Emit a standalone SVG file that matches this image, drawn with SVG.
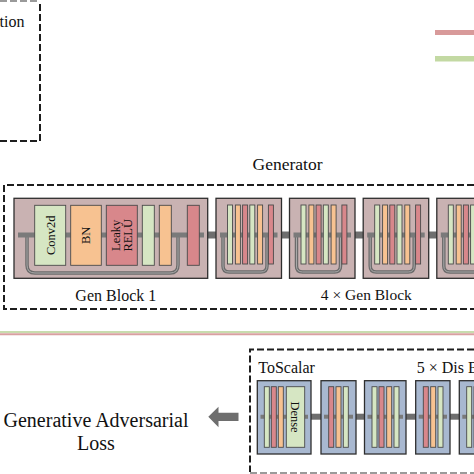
<svg xmlns="http://www.w3.org/2000/svg" width="474" height="474" viewBox="0 0 474 474">
<style>
.dash{fill:none;stroke:#1e1e1e;stroke-width:2;stroke-dasharray:7 3}
.dashg{fill:none;stroke:#9a9a9a;stroke-width:2;stroke-dasharray:7 3}
.gb{fill:#c9b2b2;stroke:#2e2e2e;stroke-width:1.3}
.db{fill:#a8b8d0;stroke:#2e2e2e;stroke-width:1.3}
.g{fill:#d6e6c3;stroke:#4a4a4a;stroke-width:0.9}
.o{fill:#f7c291;stroke:#4a4a4a;stroke-width:0.9}
.r{fill:#d8878b;stroke:#4a4a4a;stroke-width:0.9}
.ln{stroke:#7a7a7a;stroke-width:5;fill:none}
.lnd{stroke:#7a7a7a;stroke-width:4;fill:none}
.cn{stroke:#6e6e6e;stroke-width:7;fill:none}
.sk{fill:none;stroke:#6b6b6b;stroke-width:3.5}
.sk2{fill:none;stroke:#a9a9a9;stroke-width:1}
text{font-family:"Liberation Serif","Times New Roman",serif;fill:#111}
.t16{font-size:16px}
.lab{font-size:12.5px}
</style>
<defs>
<g id="genblk">
<rect class="gb" x="0" y="198.3" width="65.5" height="80"/>
<path class="sk" d="M7,235 V266 Q7,272 13,272 H45 Q51,272 51,266 V235"/>
<path class="sk2" d="M7,235 V266 Q7,272 13,272 H45 Q51,272 51,266 V235"/>
<line class="ln" x1="4" y1="235" x2="61.5" y2="235"/>
<rect class="g" x="11.5" y="205" width="5" height="59"/>
<rect class="o" x="19.4" y="205" width="5" height="59"/>
<rect class="r" x="26.6" y="205" width="5" height="59"/>
<rect class="g" x="33.8" y="205" width="5" height="59"/>
<rect class="o" x="41.6" y="205" width="5" height="59"/>
<rect class="r" x="52.4" y="205" width="5" height="59"/>
</g>
</defs>

<!-- top-left partial box -->
<g id="top-box">
<path class="dashg" d="M0,1 H40"/>
<path class="dash" d="M0,141 H40 V3"/>
<text class="t16" x="24.5" y="27" text-anchor="end">tion</text>
</g>

<!-- legend lines -->
<g id="legend">
<rect x="435" y="30" width="39" height="5" fill="#d89a9a"/>
<rect x="435" y="56" width="39" height="5.5" fill="#c3d9a3"/>
</g>

<!-- generator -->
<g id="generator">
<text x="287.5" y="170" text-anchor="middle" style="font-size:17.5px">Generator</text>
<path class="dash" d="M474,185 H4 V309 H474"/>
</g>

<g id="connectors">
<line class="cn" x1="204" y1="235" x2="217" y2="235"/>
<line class="cn" x1="281" y1="235" x2="290" y2="235"/>
<line class="cn" x1="355" y1="235" x2="364" y2="235"/>
<line class="cn" x1="428.5" y1="235" x2="437.5" y2="235"/>
<line class="cn" x1="311" y1="416.7" x2="321" y2="416.7" style="stroke-width:6"/>
<line class="cn" x1="356" y1="416.7" x2="364.5" y2="416.7" style="stroke-width:6"/>
<line class="cn" x1="406" y1="416.7" x2="415.7" y2="416.7" style="stroke-width:6"/>
<line class="cn" x1="450" y1="416.7" x2="459.3" y2="416.7" style="stroke-width:6"/>
<polygon points="208.3,416.7 218.5,406.7 218.5,412.7 238.5,412.7 238.5,421 218.5,421 218.5,427.3" fill="#6e6e6e"/>
</g>

<g id="gen-block-1">
<rect class="gb" x="14" y="198.3" width="193.7" height="80"/>
<path class="sk" d="M27,235 V265 Q27,273 35,273 H170 Q178,273 178,265 V235"/>
<path class="sk2" d="M27,235 V265 Q27,273 35,273 H170 Q178,273 178,265 V235"/>
<line class="ln" x1="18" y1="235" x2="204" y2="235"/>
<rect class="g" x="34.7" y="205.3" width="31" height="60"/>
<rect class="o" x="70.7" y="205.3" width="30.6" height="60"/>
<rect class="r" x="106.3" y="205.3" width="31" height="60"/>
<rect class="g" x="142.3" y="205.3" width="12" height="60"/>
<rect class="o" x="159.3" y="205.3" width="12" height="60"/>
<rect class="r" x="187.3" y="205.3" width="12" height="60"/>
<text class="lab" transform="translate(50.2,235.3) rotate(-90)" text-anchor="middle" dy="0.35em">Conv2d</text>
<text class="lab" transform="translate(86,235.3) rotate(-90)" text-anchor="middle" dy="0.35em">BN</text>
<text class="lab" transform="translate(121.8,235.3) rotate(-90)" text-anchor="middle"><tspan x="0" y="-2.3">Leaky</tspan><tspan x="0" y="9.7">RELU</tspan></text>
<text class="t16" x="115.8" y="300.5" text-anchor="middle">Gen Block 1</text>
</g>

<g id="gen-block-2"><use href="#genblk" x="216"/></g>
<g id="gen-block-3"><use href="#genblk" x="289.5"/></g>
<g id="gen-block-4"><use href="#genblk" x="363.2"/></g>
<g id="gen-block-5"><use href="#genblk" x="436.8"/></g>
<text class="t16" x="366.3" y="300" text-anchor="middle" style="font-size:15.5px">4 × Gen Block</text>

<!-- separator -->
<g id="separator">
<line x1="0" y1="332" x2="474" y2="332" stroke="#c8dcae" stroke-width="2"/>
<line x1="0" y1="334.3" x2="474" y2="334.3" stroke="#d8a0a0" stroke-width="2"/>
</g>

<!-- discriminator -->
<g id="discriminator">
<path class="dash" d="M474,349.5 H250 V472"/>
<path class="dashg" d="M250,473 H474"/>
<text class="t16" x="258.3" y="373.3">ToScalar</text>
<text class="t16" x="416.7" y="373.3">5 × Dis Block</text>
</g>

<g id="to-scalar">
<rect class="db" x="257.3" y="380.7" width="53.7" height="73.3"/>
<line class="lnd" x1="260.5" y1="416.7" x2="308" y2="416.7"/>
<rect class="g" x="264.3" y="386.7" width="5" height="60.6"/>
<rect class="r" x="271.3" y="386.7" width="5" height="60.6"/>
<rect class="o" x="278.3" y="386.7" width="5" height="60.6"/>
<rect class="g" x="286.3" y="386.7" width="18.4" height="60.6"/>
<text class="lab" transform="translate(295.5,417) rotate(90)" text-anchor="middle" dy="0.35em">Dense</text>
</g>

<g id="dis-block-1">
<rect class="db" x="321" y="380.7" width="35" height="73.3"/>
<line class="lnd" x1="324" y1="416.7" x2="353" y2="416.7"/>
<rect class="r" x="328.7" y="386.7" width="5" height="60.6"/>
<rect class="o" x="336" y="386.7" width="5" height="60.6"/>
<rect class="g" x="343.3" y="386.7" width="5" height="60.6"/>
</g>

<g id="dis-block-2">
<rect class="db" x="364.5" y="380.7" width="41.5" height="73.3"/>
<line class="lnd" x1="367.5" y1="416.7" x2="403" y2="416.7"/>
<rect class="g" x="372" y="386.7" width="5" height="60.6"/>
<rect class="r" x="379" y="386.7" width="5" height="60.6"/>
<rect class="o" x="386.7" y="386.7" width="5" height="60.6"/>
<rect class="g" x="394" y="386.7" width="5" height="60.6"/>
</g>

<g id="dis-block-3">
<rect class="db" x="415.7" y="380.7" width="34.3" height="73.3"/>
<line class="lnd" x1="418.7" y1="416.7" x2="447" y2="416.7"/>
<rect class="r" x="423.3" y="386.7" width="5" height="60.6"/>
<rect class="o" x="430.7" y="386.7" width="5" height="60.6"/>
<rect class="g" x="438" y="386.7" width="5" height="60.6"/>
</g>

<g id="dis-block-4">
<rect class="db" x="459.3" y="380.7" width="42" height="73.3"/>
<line class="lnd" x1="462.3" y1="416.7" x2="500" y2="416.7"/>
<rect class="g" x="466.7" y="386.7" width="5" height="60.6"/>
<rect class="r" x="474" y="386.7" width="5" height="60.6"/>
</g>

<g id="loss">
<text x="96" y="426.7" text-anchor="middle" style="font-size:20px">Generative Adversarial</text>
<text x="96" y="450" text-anchor="middle" style="font-size:20px">Loss</text>
</g>
</svg>
